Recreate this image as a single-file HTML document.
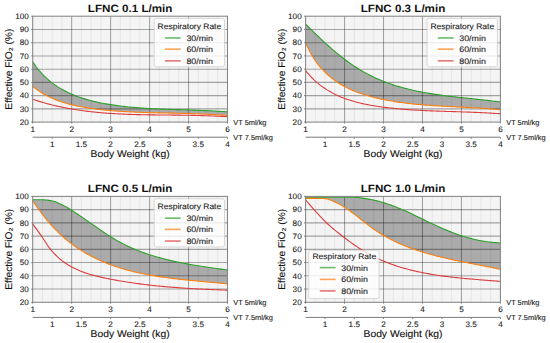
<!DOCTYPE html>
<html><head><meta charset="utf-8"><style>
html,body{margin:0;padding:0;background:#fff;}
svg{display:block;font-family:"Liberation Sans", sans-serif;text-rendering:geometricPrecision;}
</style></head><body>
<svg width="550" height="343" viewBox="0 0 550 343">
<rect width="550" height="343" fill="#fff"/>
<rect x="32.7" y="16.2" width="194.8" height="105.9" fill="#f4f4f4"/>
<polygon fill="#888" fill-opacity="0.68" points="32.7,61.77 34.32,64.18 35.95,66.48 37.57,68.63 39.19,70.57 40.82,72.38 42.44,74.12 44.06,75.77 45.69,77.35 47.31,78.85 48.93,80.28 50.56,81.63 52.18,82.91 53.8,84.12 55.43,85.27 57.05,86.35 58.67,87.39 60.3,88.37 61.92,89.31 63.54,90.21 65.17,91.08 66.79,91.9 68.41,92.68 70.04,93.43 71.66,94.15 73.28,94.83 74.91,95.49 76.53,96.12 78.15,96.73 79.78,97.3 81.4,97.85 83.02,98.38 84.65,98.89 86.27,99.37 87.89,99.84 89.52,100.28 91.14,100.71 92.76,101.12 94.39,101.51 96.01,101.89 97.63,102.25 99.26,102.6 100.88,102.93 102.5,103.25 104.13,103.55 105.75,103.85 107.37,104.13 109,104.4 110.62,104.66 112.24,104.91 113.87,105.15 115.49,105.39 117.11,105.61 118.74,105.82 120.36,106.03 121.98,106.22 123.61,106.41 125.23,106.6 126.85,106.77 128.48,106.94 130.1,107.09 131.72,107.24 133.35,107.39 134.97,107.53 136.59,107.66 138.22,107.79 139.84,107.91 141.46,108.02 143.09,108.13 144.71,108.24 146.33,108.34 147.96,108.44 149.58,108.52 151.2,108.6 152.83,108.68 154.45,108.76 156.07,108.83 157.7,108.9 159.32,108.97 160.94,109.04 162.57,109.1 164.19,109.16 165.81,109.22 167.44,109.28 169.06,109.34 170.68,109.39 172.31,109.44 173.93,109.49 175.55,109.53 177.18,109.58 178.8,109.62 180.42,109.66 182.05,109.71 183.67,109.75 185.29,109.8 186.92,109.85 188.54,109.91 190.16,109.97 191.79,110.03 193.41,110.09 195.03,110.15 196.66,110.22 198.28,110.29 199.9,110.36 201.53,110.43 203.15,110.5 204.77,110.58 206.4,110.66 208.02,110.74 209.64,110.82 211.27,110.9 212.89,110.98 214.51,111.07 216.14,111.16 217.76,111.25 219.38,111.34 221.01,111.43 222.63,111.53 224.25,111.62 225.88,111.72 227.5,111.82 227.5,115.4 225.88,115.3 224.25,115.2 222.63,115.1 221.01,115.01 219.38,114.91 217.76,114.82 216.14,114.73 214.51,114.64 212.89,114.56 211.27,114.47 209.64,114.39 208.02,114.31 206.4,114.23 204.77,114.15 203.15,114.07 201.53,114 199.9,113.93 198.28,113.86 196.66,113.8 195.03,113.74 193.41,113.68 191.79,113.62 190.16,113.57 188.54,113.52 186.92,113.47 185.29,113.42 183.67,113.38 182.05,113.34 180.42,113.3 178.8,113.27 177.18,113.23 175.55,113.2 173.93,113.17 172.31,113.14 170.68,113.11 169.06,113.08 167.44,113.05 165.81,113.02 164.19,112.98 162.57,112.95 160.94,112.92 159.32,112.89 157.7,112.85 156.07,112.82 154.45,112.78 152.83,112.74 151.2,112.69 149.58,112.65 147.96,112.6 146.33,112.55 144.71,112.5 143.09,112.44 141.46,112.38 139.84,112.32 138.22,112.26 136.59,112.19 134.97,112.12 133.35,112.05 131.72,111.98 130.1,111.9 128.48,111.82 126.85,111.73 125.23,111.63 123.61,111.53 121.98,111.43 120.36,111.31 118.74,111.2 117.11,111.08 115.49,110.96 113.87,110.83 112.24,110.7 110.62,110.56 109,110.42 107.37,110.27 105.75,110.11 104.13,109.94 102.5,109.77 100.88,109.59 99.26,109.4 97.63,109.21 96.01,109.01 94.39,108.79 92.76,108.58 91.14,108.35 89.52,108.12 87.89,107.87 86.27,107.62 84.65,107.36 83.02,107.08 81.4,106.79 79.78,106.49 78.15,106.18 76.53,105.84 74.91,105.5 73.28,105.13 71.66,104.75 70.04,104.35 68.41,103.92 66.79,103.48 65.17,103.01 63.54,102.52 61.92,102 60.3,101.46 58.67,100.88 57.05,100.27 55.43,99.63 53.8,98.97 52.18,98.28 50.56,97.55 48.93,96.76 47.31,95.94 45.69,95.08 44.06,94.18 42.44,93.21 40.82,92.18 39.19,91.11 37.57,89.98 35.95,88.8 34.32,87.56 32.7,86.27"/>
<line x1="42.44" y1="16.2" x2="42.44" y2="122.1" stroke="#000" stroke-opacity="0.1" stroke-width="0.6"/>
<line x1="52.18" y1="16.2" x2="52.18" y2="122.1" stroke="#000" stroke-opacity="0.1" stroke-width="0.6"/>
<line x1="61.92" y1="16.2" x2="61.92" y2="122.1" stroke="#000" stroke-opacity="0.1" stroke-width="0.6"/>
<line x1="81.4" y1="16.2" x2="81.4" y2="122.1" stroke="#000" stroke-opacity="0.1" stroke-width="0.6"/>
<line x1="91.14" y1="16.2" x2="91.14" y2="122.1" stroke="#000" stroke-opacity="0.1" stroke-width="0.6"/>
<line x1="100.88" y1="16.2" x2="100.88" y2="122.1" stroke="#000" stroke-opacity="0.1" stroke-width="0.6"/>
<line x1="120.36" y1="16.2" x2="120.36" y2="122.1" stroke="#000" stroke-opacity="0.1" stroke-width="0.6"/>
<line x1="130.1" y1="16.2" x2="130.1" y2="122.1" stroke="#000" stroke-opacity="0.1" stroke-width="0.6"/>
<line x1="139.84" y1="16.2" x2="139.84" y2="122.1" stroke="#000" stroke-opacity="0.1" stroke-width="0.6"/>
<line x1="159.32" y1="16.2" x2="159.32" y2="122.1" stroke="#000" stroke-opacity="0.1" stroke-width="0.6"/>
<line x1="169.06" y1="16.2" x2="169.06" y2="122.1" stroke="#000" stroke-opacity="0.1" stroke-width="0.6"/>
<line x1="178.8" y1="16.2" x2="178.8" y2="122.1" stroke="#000" stroke-opacity="0.1" stroke-width="0.6"/>
<line x1="198.28" y1="16.2" x2="198.28" y2="122.1" stroke="#000" stroke-opacity="0.1" stroke-width="0.6"/>
<line x1="208.02" y1="16.2" x2="208.02" y2="122.1" stroke="#000" stroke-opacity="0.1" stroke-width="0.6"/>
<line x1="217.76" y1="16.2" x2="217.76" y2="122.1" stroke="#000" stroke-opacity="0.1" stroke-width="0.6"/>
<line x1="71.66" y1="16.2" x2="71.66" y2="122.1" stroke="#000" stroke-opacity="0.34" stroke-width="1.05"/>
<line x1="110.62" y1="16.2" x2="110.62" y2="122.1" stroke="#000" stroke-opacity="0.34" stroke-width="1.05"/>
<line x1="149.58" y1="16.2" x2="149.58" y2="122.1" stroke="#000" stroke-opacity="0.34" stroke-width="1.05"/>
<line x1="188.54" y1="16.2" x2="188.54" y2="122.1" stroke="#000" stroke-opacity="0.34" stroke-width="1.05"/>
<line x1="32.7" y1="108.86" x2="227.5" y2="108.86" stroke="#000" stroke-opacity="0.34" stroke-width="1.05"/>
<line x1="32.7" y1="95.63" x2="227.5" y2="95.63" stroke="#000" stroke-opacity="0.34" stroke-width="1.05"/>
<line x1="32.7" y1="82.39" x2="227.5" y2="82.39" stroke="#000" stroke-opacity="0.34" stroke-width="1.05"/>
<line x1="32.7" y1="69.15" x2="227.5" y2="69.15" stroke="#000" stroke-opacity="0.34" stroke-width="1.05"/>
<line x1="32.7" y1="55.91" x2="227.5" y2="55.91" stroke="#000" stroke-opacity="0.34" stroke-width="1.05"/>
<line x1="32.7" y1="42.67" x2="227.5" y2="42.67" stroke="#000" stroke-opacity="0.34" stroke-width="1.05"/>
<line x1="32.7" y1="29.44" x2="227.5" y2="29.44" stroke="#000" stroke-opacity="0.34" stroke-width="1.05"/>
<polyline fill="none" stroke="#2ca02c" stroke-width="1.1" stroke-linejoin="round" points="32.7,61.77 34.32,64.18 35.95,66.48 37.57,68.63 39.19,70.57 40.82,72.38 42.44,74.12 44.06,75.77 45.69,77.35 47.31,78.85 48.93,80.28 50.56,81.63 52.18,82.91 53.8,84.12 55.43,85.27 57.05,86.35 58.67,87.39 60.3,88.37 61.92,89.31 63.54,90.21 65.17,91.08 66.79,91.9 68.41,92.68 70.04,93.43 71.66,94.15 73.28,94.83 74.91,95.49 76.53,96.12 78.15,96.73 79.78,97.3 81.4,97.85 83.02,98.38 84.65,98.89 86.27,99.37 87.89,99.84 89.52,100.28 91.14,100.71 92.76,101.12 94.39,101.51 96.01,101.89 97.63,102.25 99.26,102.6 100.88,102.93 102.5,103.25 104.13,103.55 105.75,103.85 107.37,104.13 109,104.4 110.62,104.66 112.24,104.91 113.87,105.15 115.49,105.39 117.11,105.61 118.74,105.82 120.36,106.03 121.98,106.22 123.61,106.41 125.23,106.6 126.85,106.77 128.48,106.94 130.1,107.09 131.72,107.24 133.35,107.39 134.97,107.53 136.59,107.66 138.22,107.79 139.84,107.91 141.46,108.02 143.09,108.13 144.71,108.24 146.33,108.34 147.96,108.44 149.58,108.52 151.2,108.6 152.83,108.68 154.45,108.76 156.07,108.83 157.7,108.9 159.32,108.97 160.94,109.04 162.57,109.1 164.19,109.16 165.81,109.22 167.44,109.28 169.06,109.34 170.68,109.39 172.31,109.44 173.93,109.49 175.55,109.53 177.18,109.58 178.8,109.62 180.42,109.66 182.05,109.71 183.67,109.75 185.29,109.8 186.92,109.85 188.54,109.91 190.16,109.97 191.79,110.03 193.41,110.09 195.03,110.15 196.66,110.22 198.28,110.29 199.9,110.36 201.53,110.43 203.15,110.5 204.77,110.58 206.4,110.66 208.02,110.74 209.64,110.82 211.27,110.9 212.89,110.98 214.51,111.07 216.14,111.16 217.76,111.25 219.38,111.34 221.01,111.43 222.63,111.53 224.25,111.62 225.88,111.72 227.5,111.82"/>
<polyline fill="none" stroke="#ff7f0e" stroke-width="1.1" stroke-linejoin="round" points="32.7,86.27 34.32,87.56 35.95,88.8 37.57,89.98 39.19,91.11 40.82,92.18 42.44,93.21 44.06,94.18 45.69,95.08 47.31,95.94 48.93,96.76 50.56,97.55 52.18,98.28 53.8,98.97 55.43,99.63 57.05,100.27 58.67,100.88 60.3,101.46 61.92,102 63.54,102.52 65.17,103.01 66.79,103.48 68.41,103.92 70.04,104.35 71.66,104.75 73.28,105.13 74.91,105.5 76.53,105.84 78.15,106.18 79.78,106.49 81.4,106.79 83.02,107.08 84.65,107.36 86.27,107.62 87.89,107.87 89.52,108.12 91.14,108.35 92.76,108.58 94.39,108.79 96.01,109.01 97.63,109.21 99.26,109.4 100.88,109.59 102.5,109.77 104.13,109.94 105.75,110.11 107.37,110.27 109,110.42 110.62,110.56 112.24,110.7 113.87,110.83 115.49,110.96 117.11,111.08 118.74,111.2 120.36,111.31 121.98,111.43 123.61,111.53 125.23,111.63 126.85,111.73 128.48,111.82 130.1,111.9 131.72,111.98 133.35,112.05 134.97,112.12 136.59,112.19 138.22,112.26 139.84,112.32 141.46,112.38 143.09,112.44 144.71,112.5 146.33,112.55 147.96,112.6 149.58,112.65 151.2,112.69 152.83,112.74 154.45,112.78 156.07,112.82 157.7,112.85 159.32,112.89 160.94,112.92 162.57,112.95 164.19,112.98 165.81,113.02 167.44,113.05 169.06,113.08 170.68,113.11 172.31,113.14 173.93,113.17 175.55,113.2 177.18,113.23 178.8,113.27 180.42,113.3 182.05,113.34 183.67,113.38 185.29,113.42 186.92,113.47 188.54,113.52 190.16,113.57 191.79,113.62 193.41,113.68 195.03,113.74 196.66,113.8 198.28,113.86 199.9,113.93 201.53,114 203.15,114.07 204.77,114.15 206.4,114.23 208.02,114.31 209.64,114.39 211.27,114.47 212.89,114.56 214.51,114.64 216.14,114.73 217.76,114.82 219.38,114.91 221.01,115.01 222.63,115.1 224.25,115.2 225.88,115.3 227.5,115.4"/>
<polyline fill="none" stroke="#dc3c3c" stroke-width="1.1" stroke-linejoin="round" points="32.7,99.28 34.32,99.83 35.95,100.35 37.57,100.87 39.19,101.37 40.82,101.86 42.44,102.34 44.06,102.8 45.69,103.26 47.31,103.7 48.93,104.13 50.56,104.54 52.18,104.95 53.8,105.34 55.43,105.73 57.05,106.1 58.67,106.46 60.3,106.81 61.92,107.15 63.54,107.48 65.17,107.8 66.79,108.11 68.41,108.42 70.04,108.71 71.66,108.99 73.28,109.26 74.91,109.53 76.53,109.78 78.15,110.03 79.78,110.27 81.4,110.5 83.02,110.72 84.65,110.94 86.27,111.14 87.89,111.34 89.52,111.54 91.14,111.72 92.76,111.9 94.39,112.07 96.01,112.23 97.63,112.39 99.26,112.54 100.88,112.69 102.5,112.83 104.13,112.96 105.75,113.09 107.37,113.21 109,113.33 110.62,113.43 112.24,113.53 113.87,113.63 115.49,113.72 117.11,113.81 118.74,113.9 120.36,113.98 121.98,114.06 123.61,114.14 125.23,114.21 126.85,114.28 128.48,114.34 130.1,114.39 131.72,114.44 133.35,114.49 134.97,114.54 136.59,114.58 138.22,114.63 139.84,114.67 141.46,114.7 143.09,114.74 144.71,114.77 146.33,114.8 147.96,114.83 149.58,114.86 151.2,114.88 152.83,114.9 154.45,114.92 156.07,114.94 157.7,114.96 159.32,114.98 160.94,114.99 162.57,115.01 164.19,115.02 165.81,115.03 167.44,115.05 169.06,115.06 170.68,115.07 172.31,115.09 173.93,115.1 175.55,115.12 177.18,115.13 178.8,115.15 180.42,115.16 182.05,115.18 183.67,115.2 185.29,115.22 186.92,115.25 188.54,115.27 190.16,115.3 191.79,115.33 193.41,115.37 195.03,115.41 196.66,115.45 198.28,115.49 199.9,115.54 201.53,115.59 203.15,115.64 204.77,115.69 206.4,115.75 208.02,115.81 209.64,115.87 211.27,115.93 212.89,115.99 214.51,116.06 216.14,116.13 217.76,116.2 219.38,116.27 221.01,116.34 222.63,116.41 224.25,116.49 225.88,116.56 227.5,116.64"/>
<rect x="32.7" y="16.2" width="194.8" height="105.9" fill="none" stroke="#858585" stroke-width="1.05"/>
<line x1="31.1" y1="122.1" x2="32.7" y2="122.1" stroke="#666" stroke-width="0.8"/>
<text transform="translate(28.8,124.8) scale(1.03,1)" font-size="7.95" text-anchor="end" fill="#222" stroke="#222" stroke-width="0.1">20</text>
<line x1="31.1" y1="108.86" x2="32.7" y2="108.86" stroke="#666" stroke-width="0.8"/>
<text transform="translate(28.8,111.56) scale(1.03,1)" font-size="7.95" text-anchor="end" fill="#222" stroke="#222" stroke-width="0.1">30</text>
<line x1="31.1" y1="95.63" x2="32.7" y2="95.63" stroke="#666" stroke-width="0.8"/>
<text transform="translate(28.8,98.33) scale(1.03,1)" font-size="7.95" text-anchor="end" fill="#222" stroke="#222" stroke-width="0.1">40</text>
<line x1="31.1" y1="82.39" x2="32.7" y2="82.39" stroke="#666" stroke-width="0.8"/>
<text transform="translate(28.8,85.09) scale(1.03,1)" font-size="7.95" text-anchor="end" fill="#222" stroke="#222" stroke-width="0.1">50</text>
<line x1="31.1" y1="69.15" x2="32.7" y2="69.15" stroke="#666" stroke-width="0.8"/>
<text transform="translate(28.8,71.85) scale(1.03,1)" font-size="7.95" text-anchor="end" fill="#222" stroke="#222" stroke-width="0.1">60</text>
<line x1="31.1" y1="55.91" x2="32.7" y2="55.91" stroke="#666" stroke-width="0.8"/>
<text transform="translate(28.8,58.61) scale(1.03,1)" font-size="7.95" text-anchor="end" fill="#222" stroke="#222" stroke-width="0.1">70</text>
<line x1="31.1" y1="42.67" x2="32.7" y2="42.67" stroke="#666" stroke-width="0.8"/>
<text transform="translate(28.8,45.38) scale(1.03,1)" font-size="7.95" text-anchor="end" fill="#222" stroke="#222" stroke-width="0.1">80</text>
<line x1="31.1" y1="29.44" x2="32.7" y2="29.44" stroke="#666" stroke-width="0.8"/>
<text transform="translate(28.8,32.14) scale(1.03,1)" font-size="7.95" text-anchor="end" fill="#222" stroke="#222" stroke-width="0.1">90</text>
<line x1="31.1" y1="16.2" x2="32.7" y2="16.2" stroke="#666" stroke-width="0.8"/>
<text transform="translate(28.8,18.9) scale(1.03,1)" font-size="7.95" text-anchor="end" fill="#222" stroke="#222" stroke-width="0.1">100</text>
<line x1="32.7" y1="122.1" x2="32.7" y2="123.5" stroke="#666" stroke-width="0.8"/>
<text transform="translate(32.7,131.7) scale(1.03,1)" font-size="7.95" text-anchor="middle" fill="#222" stroke="#222" stroke-width="0.1">1</text>
<line x1="71.66" y1="122.1" x2="71.66" y2="123.5" stroke="#666" stroke-width="0.8"/>
<text transform="translate(71.66,131.7) scale(1.03,1)" font-size="7.95" text-anchor="middle" fill="#222" stroke="#222" stroke-width="0.1">2</text>
<line x1="110.62" y1="122.1" x2="110.62" y2="123.5" stroke="#666" stroke-width="0.8"/>
<text transform="translate(110.62,131.7) scale(1.03,1)" font-size="7.95" text-anchor="middle" fill="#222" stroke="#222" stroke-width="0.1">3</text>
<line x1="149.58" y1="122.1" x2="149.58" y2="123.5" stroke="#666" stroke-width="0.8"/>
<text transform="translate(149.58,131.7) scale(1.03,1)" font-size="7.95" text-anchor="middle" fill="#222" stroke="#222" stroke-width="0.1">4</text>
<line x1="188.54" y1="122.1" x2="188.54" y2="123.5" stroke="#666" stroke-width="0.8"/>
<text transform="translate(188.54,131.7) scale(1.03,1)" font-size="7.95" text-anchor="middle" fill="#222" stroke="#222" stroke-width="0.1">5</text>
<line x1="227.5" y1="122.1" x2="227.5" y2="123.5" stroke="#666" stroke-width="0.8"/>
<text transform="translate(227.5,131.7) scale(1.03,1)" font-size="7.95" text-anchor="middle" fill="#222" stroke="#222" stroke-width="0.1">6</text>
<line x1="32.7" y1="137.2" x2="227.5" y2="137.2" stroke="#7a7a7a" stroke-width="1"/>
<line x1="52.18" y1="137.2" x2="52.18" y2="138.8" stroke="#666" stroke-width="0.8"/>
<text transform="translate(52.18,146.5) scale(1.03,1)" font-size="7.95" text-anchor="middle" fill="#222" stroke="#222" stroke-width="0.1">1</text>
<line x1="81.4" y1="137.2" x2="81.4" y2="138.8" stroke="#666" stroke-width="0.8"/>
<text transform="translate(81.4,146.5) scale(1.03,1)" font-size="7.95" text-anchor="middle" fill="#222" stroke="#222" stroke-width="0.1">1.5</text>
<line x1="110.62" y1="137.2" x2="110.62" y2="138.8" stroke="#666" stroke-width="0.8"/>
<text transform="translate(110.62,146.5) scale(1.03,1)" font-size="7.95" text-anchor="middle" fill="#222" stroke="#222" stroke-width="0.1">2</text>
<line x1="139.84" y1="137.2" x2="139.84" y2="138.8" stroke="#666" stroke-width="0.8"/>
<text transform="translate(139.84,146.5) scale(1.03,1)" font-size="7.95" text-anchor="middle" fill="#222" stroke="#222" stroke-width="0.1">2.5</text>
<line x1="169.06" y1="137.2" x2="169.06" y2="138.8" stroke="#666" stroke-width="0.8"/>
<text transform="translate(169.06,146.5) scale(1.03,1)" font-size="7.95" text-anchor="middle" fill="#222" stroke="#222" stroke-width="0.1">3</text>
<line x1="198.28" y1="137.2" x2="198.28" y2="138.8" stroke="#666" stroke-width="0.8"/>
<text transform="translate(198.28,146.5) scale(1.03,1)" font-size="7.95" text-anchor="middle" fill="#222" stroke="#222" stroke-width="0.1">3.5</text>
<line x1="227.5" y1="137.2" x2="227.5" y2="138.8" stroke="#666" stroke-width="0.8"/>
<text transform="translate(227.5,146.5) scale(1.03,1)" font-size="7.95" text-anchor="middle" fill="#222" stroke="#222" stroke-width="0.1">4</text>
<text x="233.3" y="125" font-size="7.3" fill="#222" stroke="#222" stroke-width="0.12" textLength="33.2" lengthAdjust="spacingAndGlyphs">VT 5ml/kg</text>
<text x="233.3" y="139.8" font-size="7.3" fill="#222" stroke="#222" stroke-width="0.12" textLength="39.5" lengthAdjust="spacingAndGlyphs">VT 7.5ml/kg</text>
<text x="130.1" y="156.9" font-size="9.8" text-anchor="middle" fill="#111" stroke="#111" stroke-width="0.12" textLength="79" lengthAdjust="spacingAndGlyphs">Body Weight (kg)</text>
<text transform="translate(11.8,69.15) rotate(-90)" x="0" y="0" font-size="9.8" text-anchor="middle" fill="#111" stroke="#111" stroke-width="0.12" textLength="81" lengthAdjust="spacingAndGlyphs">Effective FiO₂ (%)</text>
<text x="130.1" y="12.1" font-size="10.6" font-weight="bold" text-anchor="middle" fill="#111" textLength="84.5" lengthAdjust="spacingAndGlyphs">LFNC 0.1 L/min</text>
<rect x="154.2" y="18.55" width="70.3" height="48.2" rx="2" ry="2" fill="#ffffff" fill-opacity="0.8" stroke="#cfcfcf" stroke-width="0.8"/>
<text x="157.6" y="28.95" font-size="8.0" fill="#222" stroke="#222" stroke-width="0.12" textLength="63.6" lengthAdjust="spacingAndGlyphs">Respiratory Rate</text>
<line x1="164.9" y1="37.95" x2="180.7" y2="37.95" stroke="#2ca02c" stroke-width="1.6" stroke-opacity="0.7"/>
<text x="186.4" y="40.85" font-size="8.0" fill="#222" stroke="#222" stroke-width="0.12" textLength="26.5" lengthAdjust="spacingAndGlyphs">30/min</text>
<line x1="164.9" y1="49.15" x2="180.7" y2="49.15" stroke="#ff7f0e" stroke-width="1.6" stroke-opacity="0.7"/>
<text x="186.4" y="52.05" font-size="8.0" fill="#222" stroke="#222" stroke-width="0.12" textLength="26.5" lengthAdjust="spacingAndGlyphs">60/min</text>
<line x1="164.9" y1="60.85" x2="180.7" y2="60.85" stroke="#dc3c3c" stroke-width="1.6" stroke-opacity="0.7"/>
<text x="186.4" y="63.75" font-size="8.0" fill="#222" stroke="#222" stroke-width="0.12" textLength="26.5" lengthAdjust="spacingAndGlyphs">80/min</text>
<rect x="305.6" y="16.2" width="194.8" height="105.9" fill="#f4f4f4"/>
<polygon fill="#888" fill-opacity="0.68" points="305.6,24.06 307.22,25.68 308.85,27.28 310.47,28.87 312.09,30.45 313.72,32.04 315.34,33.62 316.96,35.2 318.59,36.76 320.21,38.32 321.83,39.85 323.46,41.36 325.08,42.84 326.7,44.3 328.33,45.76 329.95,47.21 331.57,48.65 333.2,50.07 334.82,51.46 336.44,52.84 338.07,54.18 339.69,55.5 341.31,56.78 342.94,58.04 344.56,59.27 346.18,60.49 347.81,61.69 349.43,62.86 351.05,64.01 352.68,65.13 354.3,66.22 355.92,67.28 357.55,68.3 359.17,69.29 360.79,70.26 362.42,71.2 364.04,72.12 365.66,73.01 367.29,73.88 368.91,74.73 370.53,75.56 372.16,76.36 373.78,77.15 375.4,77.91 377.03,78.64 378.65,79.35 380.27,80.04 381.9,80.71 383.52,81.35 385.14,81.99 386.77,82.6 388.39,83.2 390.01,83.77 391.64,84.33 393.26,84.88 394.88,85.4 396.51,85.91 398.13,86.4 399.75,86.88 401.38,87.34 403,87.79 404.62,88.23 406.25,88.65 407.87,89.06 409.49,89.45 411.12,89.84 412.74,90.21 414.36,90.57 415.99,90.92 417.61,91.26 419.23,91.59 420.86,91.91 422.48,92.21 424.1,92.5 425.73,92.79 427.35,93.07 428.97,93.34 430.6,93.6 432.22,93.87 433.84,94.12 435.47,94.37 437.09,94.61 438.71,94.85 440.34,95.07 441.96,95.3 443.58,95.52 445.21,95.73 446.83,95.93 448.45,96.13 450.08,96.33 451.7,96.52 453.32,96.71 454.95,96.89 456.57,97.08 458.19,97.26 459.82,97.44 461.44,97.62 463.06,97.8 464.69,97.98 466.31,98.15 467.93,98.32 469.56,98.49 471.18,98.65 472.8,98.82 474.43,98.99 476.05,99.16 477.67,99.33 479.3,99.5 480.92,99.68 482.54,99.86 484.17,100.05 485.79,100.23 487.41,100.42 489.04,100.61 490.66,100.8 492.28,100.99 493.91,101.18 495.53,101.38 497.15,101.57 498.78,101.77 500.4,101.97 500.4,109.73 498.78,109.58 497.15,109.43 495.53,109.29 493.91,109.15 492.28,109.01 490.66,108.87 489.04,108.74 487.41,108.61 485.79,108.49 484.17,108.38 482.54,108.26 480.92,108.15 479.3,108.05 477.67,107.95 476.05,107.86 474.43,107.76 472.8,107.68 471.18,107.59 469.56,107.5 467.93,107.42 466.31,107.34 464.69,107.26 463.06,107.17 461.44,107.09 459.82,107.01 458.19,106.92 456.57,106.85 454.95,106.77 453.32,106.69 451.7,106.61 450.08,106.54 448.45,106.46 446.83,106.38 445.21,106.3 443.58,106.21 441.96,106.12 440.34,106.03 438.71,105.93 437.09,105.84 435.47,105.74 433.84,105.64 432.22,105.53 430.6,105.42 428.97,105.31 427.35,105.2 425.73,105.08 424.1,104.96 422.48,104.83 420.86,104.69 419.23,104.55 417.61,104.4 415.99,104.25 414.36,104.09 412.74,103.92 411.12,103.75 409.49,103.57 407.87,103.39 406.25,103.19 404.62,103 403,102.79 401.38,102.57 399.75,102.35 398.13,102.11 396.51,101.86 394.88,101.6 393.26,101.33 391.64,101.06 390.01,100.77 388.39,100.48 386.77,100.17 385.14,99.87 383.52,99.55 381.9,99.22 380.27,98.87 378.65,98.51 377.03,98.12 375.4,97.73 373.78,97.32 372.16,96.91 370.53,96.47 368.91,96.02 367.29,95.56 365.66,95.07 364.04,94.57 362.42,94.05 360.79,93.51 359.17,92.94 357.55,92.35 355.92,91.73 354.3,91.09 352.68,90.41 351.05,89.7 349.43,88.96 347.81,88.18 346.18,87.38 344.56,86.55 342.94,85.66 341.31,84.72 339.69,83.74 338.07,82.72 336.44,81.62 334.82,80.45 333.2,79.23 331.57,77.95 329.95,76.63 328.33,75.23 326.7,73.77 325.08,72.23 323.46,70.6 321.83,68.89 320.21,67.04 318.59,65.07 316.96,62.96 315.34,60.7 313.72,58.29 312.09,55.71 310.47,52.81 308.85,49.62 307.22,46.19 305.6,42.57"/>
<line x1="315.34" y1="16.2" x2="315.34" y2="122.1" stroke="#000" stroke-opacity="0.1" stroke-width="0.6"/>
<line x1="325.08" y1="16.2" x2="325.08" y2="122.1" stroke="#000" stroke-opacity="0.1" stroke-width="0.6"/>
<line x1="334.82" y1="16.2" x2="334.82" y2="122.1" stroke="#000" stroke-opacity="0.1" stroke-width="0.6"/>
<line x1="354.3" y1="16.2" x2="354.3" y2="122.1" stroke="#000" stroke-opacity="0.1" stroke-width="0.6"/>
<line x1="364.04" y1="16.2" x2="364.04" y2="122.1" stroke="#000" stroke-opacity="0.1" stroke-width="0.6"/>
<line x1="373.78" y1="16.2" x2="373.78" y2="122.1" stroke="#000" stroke-opacity="0.1" stroke-width="0.6"/>
<line x1="393.26" y1="16.2" x2="393.26" y2="122.1" stroke="#000" stroke-opacity="0.1" stroke-width="0.6"/>
<line x1="403" y1="16.2" x2="403" y2="122.1" stroke="#000" stroke-opacity="0.1" stroke-width="0.6"/>
<line x1="412.74" y1="16.2" x2="412.74" y2="122.1" stroke="#000" stroke-opacity="0.1" stroke-width="0.6"/>
<line x1="432.22" y1="16.2" x2="432.22" y2="122.1" stroke="#000" stroke-opacity="0.1" stroke-width="0.6"/>
<line x1="441.96" y1="16.2" x2="441.96" y2="122.1" stroke="#000" stroke-opacity="0.1" stroke-width="0.6"/>
<line x1="451.7" y1="16.2" x2="451.7" y2="122.1" stroke="#000" stroke-opacity="0.1" stroke-width="0.6"/>
<line x1="471.18" y1="16.2" x2="471.18" y2="122.1" stroke="#000" stroke-opacity="0.1" stroke-width="0.6"/>
<line x1="480.92" y1="16.2" x2="480.92" y2="122.1" stroke="#000" stroke-opacity="0.1" stroke-width="0.6"/>
<line x1="490.66" y1="16.2" x2="490.66" y2="122.1" stroke="#000" stroke-opacity="0.1" stroke-width="0.6"/>
<line x1="344.56" y1="16.2" x2="344.56" y2="122.1" stroke="#000" stroke-opacity="0.34" stroke-width="1.05"/>
<line x1="383.52" y1="16.2" x2="383.52" y2="122.1" stroke="#000" stroke-opacity="0.34" stroke-width="1.05"/>
<line x1="422.48" y1="16.2" x2="422.48" y2="122.1" stroke="#000" stroke-opacity="0.34" stroke-width="1.05"/>
<line x1="461.44" y1="16.2" x2="461.44" y2="122.1" stroke="#000" stroke-opacity="0.34" stroke-width="1.05"/>
<line x1="305.6" y1="108.86" x2="500.4" y2="108.86" stroke="#000" stroke-opacity="0.34" stroke-width="1.05"/>
<line x1="305.6" y1="95.63" x2="500.4" y2="95.63" stroke="#000" stroke-opacity="0.34" stroke-width="1.05"/>
<line x1="305.6" y1="82.39" x2="500.4" y2="82.39" stroke="#000" stroke-opacity="0.34" stroke-width="1.05"/>
<line x1="305.6" y1="69.15" x2="500.4" y2="69.15" stroke="#000" stroke-opacity="0.34" stroke-width="1.05"/>
<line x1="305.6" y1="55.91" x2="500.4" y2="55.91" stroke="#000" stroke-opacity="0.34" stroke-width="1.05"/>
<line x1="305.6" y1="42.67" x2="500.4" y2="42.67" stroke="#000" stroke-opacity="0.34" stroke-width="1.05"/>
<line x1="305.6" y1="29.44" x2="500.4" y2="29.44" stroke="#000" stroke-opacity="0.34" stroke-width="1.05"/>
<polyline fill="none" stroke="#2ca02c" stroke-width="1.1" stroke-linejoin="round" points="305.6,24.06 307.22,25.68 308.85,27.28 310.47,28.87 312.09,30.45 313.72,32.04 315.34,33.62 316.96,35.2 318.59,36.76 320.21,38.32 321.83,39.85 323.46,41.36 325.08,42.84 326.7,44.3 328.33,45.76 329.95,47.21 331.57,48.65 333.2,50.07 334.82,51.46 336.44,52.84 338.07,54.18 339.69,55.5 341.31,56.78 342.94,58.04 344.56,59.27 346.18,60.49 347.81,61.69 349.43,62.86 351.05,64.01 352.68,65.13 354.3,66.22 355.92,67.28 357.55,68.3 359.17,69.29 360.79,70.26 362.42,71.2 364.04,72.12 365.66,73.01 367.29,73.88 368.91,74.73 370.53,75.56 372.16,76.36 373.78,77.15 375.4,77.91 377.03,78.64 378.65,79.35 380.27,80.04 381.9,80.71 383.52,81.35 385.14,81.99 386.77,82.6 388.39,83.2 390.01,83.77 391.64,84.33 393.26,84.88 394.88,85.4 396.51,85.91 398.13,86.4 399.75,86.88 401.38,87.34 403,87.79 404.62,88.23 406.25,88.65 407.87,89.06 409.49,89.45 411.12,89.84 412.74,90.21 414.36,90.57 415.99,90.92 417.61,91.26 419.23,91.59 420.86,91.91 422.48,92.21 424.1,92.5 425.73,92.79 427.35,93.07 428.97,93.34 430.6,93.6 432.22,93.87 433.84,94.12 435.47,94.37 437.09,94.61 438.71,94.85 440.34,95.07 441.96,95.3 443.58,95.52 445.21,95.73 446.83,95.93 448.45,96.13 450.08,96.33 451.7,96.52 453.32,96.71 454.95,96.89 456.57,97.08 458.19,97.26 459.82,97.44 461.44,97.62 463.06,97.8 464.69,97.98 466.31,98.15 467.93,98.32 469.56,98.49 471.18,98.65 472.8,98.82 474.43,98.99 476.05,99.16 477.67,99.33 479.3,99.5 480.92,99.68 482.54,99.86 484.17,100.05 485.79,100.23 487.41,100.42 489.04,100.61 490.66,100.8 492.28,100.99 493.91,101.18 495.53,101.38 497.15,101.57 498.78,101.77 500.4,101.97"/>
<polyline fill="none" stroke="#ff7f0e" stroke-width="1.1" stroke-linejoin="round" points="305.6,42.57 307.22,46.19 308.85,49.62 310.47,52.81 312.09,55.71 313.72,58.29 315.34,60.7 316.96,62.96 318.59,65.07 320.21,67.04 321.83,68.89 323.46,70.6 325.08,72.23 326.7,73.77 328.33,75.23 329.95,76.63 331.57,77.95 333.2,79.23 334.82,80.45 336.44,81.62 338.07,82.72 339.69,83.74 341.31,84.72 342.94,85.66 344.56,86.55 346.18,87.38 347.81,88.18 349.43,88.96 351.05,89.7 352.68,90.41 354.3,91.09 355.92,91.73 357.55,92.35 359.17,92.94 360.79,93.51 362.42,94.05 364.04,94.57 365.66,95.07 367.29,95.56 368.91,96.02 370.53,96.47 372.16,96.91 373.78,97.32 375.4,97.73 377.03,98.12 378.65,98.51 380.27,98.87 381.9,99.22 383.52,99.55 385.14,99.87 386.77,100.17 388.39,100.48 390.01,100.77 391.64,101.06 393.26,101.33 394.88,101.6 396.51,101.86 398.13,102.11 399.75,102.35 401.38,102.57 403,102.79 404.62,103 406.25,103.19 407.87,103.39 409.49,103.57 411.12,103.75 412.74,103.92 414.36,104.09 415.99,104.25 417.61,104.4 419.23,104.55 420.86,104.69 422.48,104.83 424.1,104.96 425.73,105.08 427.35,105.2 428.97,105.31 430.6,105.42 432.22,105.53 433.84,105.64 435.47,105.74 437.09,105.84 438.71,105.93 440.34,106.03 441.96,106.12 443.58,106.21 445.21,106.3 446.83,106.38 448.45,106.46 450.08,106.54 451.7,106.61 453.32,106.69 454.95,106.77 456.57,106.85 458.19,106.92 459.82,107.01 461.44,107.09 463.06,107.17 464.69,107.26 466.31,107.34 467.93,107.42 469.56,107.5 471.18,107.59 472.8,107.68 474.43,107.76 476.05,107.86 477.67,107.95 479.3,108.05 480.92,108.15 482.54,108.26 484.17,108.38 485.79,108.49 487.41,108.61 489.04,108.74 490.66,108.87 492.28,109.01 493.91,109.15 495.53,109.29 497.15,109.43 498.78,109.58 500.4,109.73"/>
<polyline fill="none" stroke="#dc3c3c" stroke-width="1.1" stroke-linejoin="round" points="305.6,70.67 307.22,72.6 308.85,74.46 310.47,76.27 312.09,78 313.72,79.64 315.34,81.17 316.96,82.6 318.59,83.9 320.21,85.15 321.83,86.34 323.46,87.48 325.08,88.57 326.7,89.62 328.33,90.62 329.95,91.58 331.57,92.5 333.2,93.37 334.82,94.22 336.44,95.02 338.07,95.77 339.69,96.48 341.31,97.15 342.94,97.79 344.56,98.4 346.18,98.98 347.81,99.54 349.43,100.08 351.05,100.6 352.68,101.09 354.3,101.55 355.92,102 357.55,102.42 359.17,102.83 360.79,103.22 362.42,103.59 364.04,103.95 365.66,104.29 367.29,104.61 368.91,104.93 370.53,105.22 372.16,105.51 373.78,105.78 375.4,106.05 377.03,106.3 378.65,106.54 380.27,106.78 381.9,107 383.52,107.21 385.14,107.41 386.77,107.6 388.39,107.79 390.01,107.98 391.64,108.16 393.26,108.33 394.88,108.5 396.51,108.66 398.13,108.82 399.75,108.97 401.38,109.11 403,109.24 404.62,109.37 406.25,109.49 407.87,109.61 409.49,109.72 411.12,109.83 412.74,109.94 414.36,110.04 415.99,110.14 417.61,110.23 419.23,110.32 420.86,110.41 422.48,110.49 424.1,110.57 425.73,110.64 427.35,110.72 428.97,110.78 430.6,110.85 432.22,110.91 433.84,110.98 435.47,111.04 437.09,111.1 438.71,111.15 440.34,111.21 441.96,111.27 443.58,111.32 445.21,111.38 446.83,111.43 448.45,111.48 450.08,111.53 451.7,111.57 453.32,111.62 454.95,111.67 456.57,111.72 458.19,111.77 459.82,111.82 461.44,111.87 463.06,111.93 464.69,111.98 466.31,112.04 467.93,112.1 469.56,112.15 471.18,112.21 472.8,112.27 474.43,112.33 476.05,112.4 477.67,112.47 479.3,112.54 480.92,112.61 482.54,112.69 484.17,112.77 485.79,112.85 487.41,112.94 489.04,113.04 490.66,113.14 492.28,113.24 493.91,113.34 495.53,113.45 497.15,113.56 498.78,113.67 500.4,113.78"/>
<rect x="305.6" y="16.2" width="194.8" height="105.9" fill="none" stroke="#858585" stroke-width="1.05"/>
<line x1="304" y1="122.1" x2="305.6" y2="122.1" stroke="#666" stroke-width="0.8"/>
<text transform="translate(301.7,124.8) scale(1.03,1)" font-size="7.95" text-anchor="end" fill="#222" stroke="#222" stroke-width="0.1">20</text>
<line x1="304" y1="108.86" x2="305.6" y2="108.86" stroke="#666" stroke-width="0.8"/>
<text transform="translate(301.7,111.56) scale(1.03,1)" font-size="7.95" text-anchor="end" fill="#222" stroke="#222" stroke-width="0.1">30</text>
<line x1="304" y1="95.63" x2="305.6" y2="95.63" stroke="#666" stroke-width="0.8"/>
<text transform="translate(301.7,98.33) scale(1.03,1)" font-size="7.95" text-anchor="end" fill="#222" stroke="#222" stroke-width="0.1">40</text>
<line x1="304" y1="82.39" x2="305.6" y2="82.39" stroke="#666" stroke-width="0.8"/>
<text transform="translate(301.7,85.09) scale(1.03,1)" font-size="7.95" text-anchor="end" fill="#222" stroke="#222" stroke-width="0.1">50</text>
<line x1="304" y1="69.15" x2="305.6" y2="69.15" stroke="#666" stroke-width="0.8"/>
<text transform="translate(301.7,71.85) scale(1.03,1)" font-size="7.95" text-anchor="end" fill="#222" stroke="#222" stroke-width="0.1">60</text>
<line x1="304" y1="55.91" x2="305.6" y2="55.91" stroke="#666" stroke-width="0.8"/>
<text transform="translate(301.7,58.61) scale(1.03,1)" font-size="7.95" text-anchor="end" fill="#222" stroke="#222" stroke-width="0.1">70</text>
<line x1="304" y1="42.67" x2="305.6" y2="42.67" stroke="#666" stroke-width="0.8"/>
<text transform="translate(301.7,45.38) scale(1.03,1)" font-size="7.95" text-anchor="end" fill="#222" stroke="#222" stroke-width="0.1">80</text>
<line x1="304" y1="29.44" x2="305.6" y2="29.44" stroke="#666" stroke-width="0.8"/>
<text transform="translate(301.7,32.14) scale(1.03,1)" font-size="7.95" text-anchor="end" fill="#222" stroke="#222" stroke-width="0.1">90</text>
<line x1="304" y1="16.2" x2="305.6" y2="16.2" stroke="#666" stroke-width="0.8"/>
<text transform="translate(301.7,18.9) scale(1.03,1)" font-size="7.95" text-anchor="end" fill="#222" stroke="#222" stroke-width="0.1">100</text>
<line x1="305.6" y1="122.1" x2="305.6" y2="123.5" stroke="#666" stroke-width="0.8"/>
<text transform="translate(305.6,131.7) scale(1.03,1)" font-size="7.95" text-anchor="middle" fill="#222" stroke="#222" stroke-width="0.1">1</text>
<line x1="344.56" y1="122.1" x2="344.56" y2="123.5" stroke="#666" stroke-width="0.8"/>
<text transform="translate(344.56,131.7) scale(1.03,1)" font-size="7.95" text-anchor="middle" fill="#222" stroke="#222" stroke-width="0.1">2</text>
<line x1="383.52" y1="122.1" x2="383.52" y2="123.5" stroke="#666" stroke-width="0.8"/>
<text transform="translate(383.52,131.7) scale(1.03,1)" font-size="7.95" text-anchor="middle" fill="#222" stroke="#222" stroke-width="0.1">3</text>
<line x1="422.48" y1="122.1" x2="422.48" y2="123.5" stroke="#666" stroke-width="0.8"/>
<text transform="translate(422.48,131.7) scale(1.03,1)" font-size="7.95" text-anchor="middle" fill="#222" stroke="#222" stroke-width="0.1">4</text>
<line x1="461.44" y1="122.1" x2="461.44" y2="123.5" stroke="#666" stroke-width="0.8"/>
<text transform="translate(461.44,131.7) scale(1.03,1)" font-size="7.95" text-anchor="middle" fill="#222" stroke="#222" stroke-width="0.1">5</text>
<line x1="500.4" y1="122.1" x2="500.4" y2="123.5" stroke="#666" stroke-width="0.8"/>
<text transform="translate(500.4,131.7) scale(1.03,1)" font-size="7.95" text-anchor="middle" fill="#222" stroke="#222" stroke-width="0.1">6</text>
<line x1="305.6" y1="137.2" x2="500.4" y2="137.2" stroke="#7a7a7a" stroke-width="1"/>
<line x1="325.08" y1="137.2" x2="325.08" y2="138.8" stroke="#666" stroke-width="0.8"/>
<text transform="translate(325.08,146.5) scale(1.03,1)" font-size="7.95" text-anchor="middle" fill="#222" stroke="#222" stroke-width="0.1">1</text>
<line x1="354.3" y1="137.2" x2="354.3" y2="138.8" stroke="#666" stroke-width="0.8"/>
<text transform="translate(354.3,146.5) scale(1.03,1)" font-size="7.95" text-anchor="middle" fill="#222" stroke="#222" stroke-width="0.1">1.5</text>
<line x1="383.52" y1="137.2" x2="383.52" y2="138.8" stroke="#666" stroke-width="0.8"/>
<text transform="translate(383.52,146.5) scale(1.03,1)" font-size="7.95" text-anchor="middle" fill="#222" stroke="#222" stroke-width="0.1">2</text>
<line x1="412.74" y1="137.2" x2="412.74" y2="138.8" stroke="#666" stroke-width="0.8"/>
<text transform="translate(412.74,146.5) scale(1.03,1)" font-size="7.95" text-anchor="middle" fill="#222" stroke="#222" stroke-width="0.1">2.5</text>
<line x1="441.96" y1="137.2" x2="441.96" y2="138.8" stroke="#666" stroke-width="0.8"/>
<text transform="translate(441.96,146.5) scale(1.03,1)" font-size="7.95" text-anchor="middle" fill="#222" stroke="#222" stroke-width="0.1">3</text>
<line x1="471.18" y1="137.2" x2="471.18" y2="138.8" stroke="#666" stroke-width="0.8"/>
<text transform="translate(471.18,146.5) scale(1.03,1)" font-size="7.95" text-anchor="middle" fill="#222" stroke="#222" stroke-width="0.1">3.5</text>
<line x1="500.4" y1="137.2" x2="500.4" y2="138.8" stroke="#666" stroke-width="0.8"/>
<text transform="translate(500.4,146.5) scale(1.03,1)" font-size="7.95" text-anchor="middle" fill="#222" stroke="#222" stroke-width="0.1">4</text>
<text x="506.2" y="125" font-size="7.3" fill="#222" stroke="#222" stroke-width="0.12" textLength="33.2" lengthAdjust="spacingAndGlyphs">VT 5ml/kg</text>
<text x="506.2" y="139.8" font-size="7.3" fill="#222" stroke="#222" stroke-width="0.12" textLength="39.5" lengthAdjust="spacingAndGlyphs">VT 7.5ml/kg</text>
<text x="403" y="156.9" font-size="9.8" text-anchor="middle" fill="#111" stroke="#111" stroke-width="0.12" textLength="79" lengthAdjust="spacingAndGlyphs">Body Weight (kg)</text>
<text transform="translate(284.7,69.15) rotate(-90)" x="0" y="0" font-size="9.8" text-anchor="middle" fill="#111" stroke="#111" stroke-width="0.12" textLength="81" lengthAdjust="spacingAndGlyphs">Effective FiO₂ (%)</text>
<text x="403" y="12.1" font-size="10.6" font-weight="bold" text-anchor="middle" fill="#111" textLength="84.5" lengthAdjust="spacingAndGlyphs">LFNC 0.3 L/min</text>
<rect x="427.1" y="18.55" width="70.3" height="48.2" rx="2" ry="2" fill="#ffffff" fill-opacity="0.8" stroke="#cfcfcf" stroke-width="0.8"/>
<text x="430.5" y="28.95" font-size="8.0" fill="#222" stroke="#222" stroke-width="0.12" textLength="63.6" lengthAdjust="spacingAndGlyphs">Respiratory Rate</text>
<line x1="437.8" y1="37.95" x2="453.6" y2="37.95" stroke="#2ca02c" stroke-width="1.6" stroke-opacity="0.7"/>
<text x="459.3" y="40.85" font-size="8.0" fill="#222" stroke="#222" stroke-width="0.12" textLength="26.5" lengthAdjust="spacingAndGlyphs">30/min</text>
<line x1="437.8" y1="49.15" x2="453.6" y2="49.15" stroke="#ff7f0e" stroke-width="1.6" stroke-opacity="0.7"/>
<text x="459.3" y="52.05" font-size="8.0" fill="#222" stroke="#222" stroke-width="0.12" textLength="26.5" lengthAdjust="spacingAndGlyphs">60/min</text>
<line x1="437.8" y1="60.85" x2="453.6" y2="60.85" stroke="#dc3c3c" stroke-width="1.6" stroke-opacity="0.7"/>
<text x="459.3" y="63.75" font-size="8.0" fill="#222" stroke="#222" stroke-width="0.12" textLength="26.5" lengthAdjust="spacingAndGlyphs">80/min</text>
<rect x="32.7" y="196.4" width="194.8" height="105.9" fill="#f4f4f4"/>
<polygon fill="#888" fill-opacity="0.68" points="32.7,199.79 34.32,199.79 35.95,199.79 37.57,199.79 39.19,199.79 40.82,199.79 42.44,199.79 44.06,199.84 45.69,199.96 47.31,200.14 48.93,200.38 50.56,200.65 52.18,200.94 53.8,201.32 55.43,201.84 57.05,202.47 58.67,203.19 60.3,203.94 61.92,204.69 63.54,205.49 65.17,206.37 66.79,207.3 68.41,208.28 70.04,209.28 71.66,210.28 73.28,211.3 74.91,212.35 76.53,213.42 78.15,214.52 79.78,215.63 81.4,216.75 83.02,217.88 84.65,219.01 86.27,220.14 87.89,221.26 89.52,222.37 91.14,223.48 92.76,224.61 94.39,225.75 96.01,226.89 97.63,228.03 99.26,229.16 100.88,230.29 102.5,231.41 104.13,232.51 105.75,233.59 107.37,234.65 109,235.69 110.62,236.71 112.24,237.71 113.87,238.7 115.49,239.67 117.11,240.61 118.74,241.53 120.36,242.42 121.98,243.29 123.61,244.13 125.23,244.94 126.85,245.73 128.48,246.51 130.1,247.25 131.72,247.98 133.35,248.68 134.97,249.37 136.59,250.03 138.22,250.68 139.84,251.31 141.46,251.92 143.09,252.52 144.71,253.11 146.33,253.67 147.96,254.22 149.58,254.74 151.2,255.25 152.83,255.75 154.45,256.23 156.07,256.71 157.7,257.18 159.32,257.63 160.94,258.08 162.57,258.52 164.19,258.94 165.81,259.35 167.44,259.76 169.06,260.15 170.68,260.52 172.31,260.89 173.93,261.25 175.55,261.6 177.18,261.95 178.8,262.28 180.42,262.61 182.05,262.93 183.67,263.25 185.29,263.55 186.92,263.85 188.54,264.15 190.16,264.44 191.79,264.72 193.41,265 195.03,265.27 196.66,265.53 198.28,265.79 199.9,266.04 201.53,266.3 203.15,266.54 204.77,266.79 206.4,267.03 208.02,267.27 209.64,267.51 211.27,267.75 212.89,267.99 214.51,268.22 216.14,268.45 217.76,268.67 219.38,268.9 221.01,269.12 222.63,269.33 224.25,269.55 225.88,269.76 227.5,269.97 227.5,283.88 225.88,283.73 224.25,283.57 222.63,283.42 221.01,283.26 219.38,283.1 217.76,282.95 216.14,282.79 214.51,282.64 212.89,282.48 211.27,282.33 209.64,282.18 208.02,282.02 206.4,281.87 204.77,281.72 203.15,281.57 201.53,281.42 199.9,281.27 198.28,281.12 196.66,280.97 195.03,280.82 193.41,280.67 191.79,280.51 190.16,280.35 188.54,280.19 186.92,280.02 185.29,279.85 183.67,279.68 182.05,279.51 180.42,279.33 178.8,279.15 177.18,278.97 175.55,278.78 173.93,278.59 172.31,278.39 170.68,278.19 169.06,277.98 167.44,277.77 165.81,277.55 164.19,277.32 162.57,277.09 160.94,276.85 159.32,276.61 157.7,276.36 156.07,276.1 154.45,275.84 152.83,275.56 151.2,275.28 149.58,275 147.96,274.7 146.33,274.4 144.71,274.08 143.09,273.75 141.46,273.42 139.84,273.07 138.22,272.71 136.59,272.34 134.97,271.97 133.35,271.58 131.72,271.18 130.1,270.77 128.48,270.35 126.85,269.91 125.23,269.46 123.61,268.99 121.98,268.5 120.36,268 118.74,267.49 117.11,266.97 115.49,266.43 113.87,265.88 112.24,265.32 110.62,264.75 109,264.16 107.37,263.54 105.75,262.89 104.13,262.23 102.5,261.54 100.88,260.84 99.26,260.12 97.63,259.38 96.01,258.61 94.39,257.82 92.76,257.01 91.14,256.18 89.52,255.32 87.89,254.44 86.27,253.52 84.65,252.58 83.02,251.62 81.4,250.63 79.78,249.61 78.15,248.55 76.53,247.46 74.91,246.32 73.28,245.14 71.66,243.93 70.04,242.68 68.41,241.4 66.79,240.07 65.17,238.71 63.54,237.31 61.92,235.87 60.3,234.38 58.67,232.83 57.05,231.23 55.43,229.58 53.8,227.88 52.18,226.13 50.56,224.34 48.93,222.49 47.31,220.57 45.69,218.57 44.06,216.5 42.44,214.39 40.82,212.23 39.19,210.05 37.57,207.81 35.95,205.52 34.32,203.17 32.7,200.77"/>
<line x1="42.44" y1="196.4" x2="42.44" y2="302.3" stroke="#000" stroke-opacity="0.1" stroke-width="0.6"/>
<line x1="52.18" y1="196.4" x2="52.18" y2="302.3" stroke="#000" stroke-opacity="0.1" stroke-width="0.6"/>
<line x1="61.92" y1="196.4" x2="61.92" y2="302.3" stroke="#000" stroke-opacity="0.1" stroke-width="0.6"/>
<line x1="81.4" y1="196.4" x2="81.4" y2="302.3" stroke="#000" stroke-opacity="0.1" stroke-width="0.6"/>
<line x1="91.14" y1="196.4" x2="91.14" y2="302.3" stroke="#000" stroke-opacity="0.1" stroke-width="0.6"/>
<line x1="100.88" y1="196.4" x2="100.88" y2="302.3" stroke="#000" stroke-opacity="0.1" stroke-width="0.6"/>
<line x1="120.36" y1="196.4" x2="120.36" y2="302.3" stroke="#000" stroke-opacity="0.1" stroke-width="0.6"/>
<line x1="130.1" y1="196.4" x2="130.1" y2="302.3" stroke="#000" stroke-opacity="0.1" stroke-width="0.6"/>
<line x1="139.84" y1="196.4" x2="139.84" y2="302.3" stroke="#000" stroke-opacity="0.1" stroke-width="0.6"/>
<line x1="159.32" y1="196.4" x2="159.32" y2="302.3" stroke="#000" stroke-opacity="0.1" stroke-width="0.6"/>
<line x1="169.06" y1="196.4" x2="169.06" y2="302.3" stroke="#000" stroke-opacity="0.1" stroke-width="0.6"/>
<line x1="178.8" y1="196.4" x2="178.8" y2="302.3" stroke="#000" stroke-opacity="0.1" stroke-width="0.6"/>
<line x1="198.28" y1="196.4" x2="198.28" y2="302.3" stroke="#000" stroke-opacity="0.1" stroke-width="0.6"/>
<line x1="208.02" y1="196.4" x2="208.02" y2="302.3" stroke="#000" stroke-opacity="0.1" stroke-width="0.6"/>
<line x1="217.76" y1="196.4" x2="217.76" y2="302.3" stroke="#000" stroke-opacity="0.1" stroke-width="0.6"/>
<line x1="71.66" y1="196.4" x2="71.66" y2="302.3" stroke="#000" stroke-opacity="0.34" stroke-width="1.05"/>
<line x1="110.62" y1="196.4" x2="110.62" y2="302.3" stroke="#000" stroke-opacity="0.34" stroke-width="1.05"/>
<line x1="149.58" y1="196.4" x2="149.58" y2="302.3" stroke="#000" stroke-opacity="0.34" stroke-width="1.05"/>
<line x1="188.54" y1="196.4" x2="188.54" y2="302.3" stroke="#000" stroke-opacity="0.34" stroke-width="1.05"/>
<line x1="32.7" y1="289.06" x2="227.5" y2="289.06" stroke="#000" stroke-opacity="0.34" stroke-width="1.05"/>
<line x1="32.7" y1="275.83" x2="227.5" y2="275.83" stroke="#000" stroke-opacity="0.34" stroke-width="1.05"/>
<line x1="32.7" y1="262.59" x2="227.5" y2="262.59" stroke="#000" stroke-opacity="0.34" stroke-width="1.05"/>
<line x1="32.7" y1="249.35" x2="227.5" y2="249.35" stroke="#000" stroke-opacity="0.34" stroke-width="1.05"/>
<line x1="32.7" y1="236.11" x2="227.5" y2="236.11" stroke="#000" stroke-opacity="0.34" stroke-width="1.05"/>
<line x1="32.7" y1="222.88" x2="227.5" y2="222.88" stroke="#000" stroke-opacity="0.34" stroke-width="1.05"/>
<line x1="32.7" y1="209.64" x2="227.5" y2="209.64" stroke="#000" stroke-opacity="0.34" stroke-width="1.05"/>
<polyline fill="none" stroke="#2ca02c" stroke-width="1.1" stroke-linejoin="round" points="32.7,199.79 34.32,199.79 35.95,199.79 37.57,199.79 39.19,199.79 40.82,199.79 42.44,199.79 44.06,199.84 45.69,199.96 47.31,200.14 48.93,200.38 50.56,200.65 52.18,200.94 53.8,201.32 55.43,201.84 57.05,202.47 58.67,203.19 60.3,203.94 61.92,204.69 63.54,205.49 65.17,206.37 66.79,207.3 68.41,208.28 70.04,209.28 71.66,210.28 73.28,211.3 74.91,212.35 76.53,213.42 78.15,214.52 79.78,215.63 81.4,216.75 83.02,217.88 84.65,219.01 86.27,220.14 87.89,221.26 89.52,222.37 91.14,223.48 92.76,224.61 94.39,225.75 96.01,226.89 97.63,228.03 99.26,229.16 100.88,230.29 102.5,231.41 104.13,232.51 105.75,233.59 107.37,234.65 109,235.69 110.62,236.71 112.24,237.71 113.87,238.7 115.49,239.67 117.11,240.61 118.74,241.53 120.36,242.42 121.98,243.29 123.61,244.13 125.23,244.94 126.85,245.73 128.48,246.51 130.1,247.25 131.72,247.98 133.35,248.68 134.97,249.37 136.59,250.03 138.22,250.68 139.84,251.31 141.46,251.92 143.09,252.52 144.71,253.11 146.33,253.67 147.96,254.22 149.58,254.74 151.2,255.25 152.83,255.75 154.45,256.23 156.07,256.71 157.7,257.18 159.32,257.63 160.94,258.08 162.57,258.52 164.19,258.94 165.81,259.35 167.44,259.76 169.06,260.15 170.68,260.52 172.31,260.89 173.93,261.25 175.55,261.6 177.18,261.95 178.8,262.28 180.42,262.61 182.05,262.93 183.67,263.25 185.29,263.55 186.92,263.85 188.54,264.15 190.16,264.44 191.79,264.72 193.41,265 195.03,265.27 196.66,265.53 198.28,265.79 199.9,266.04 201.53,266.3 203.15,266.54 204.77,266.79 206.4,267.03 208.02,267.27 209.64,267.51 211.27,267.75 212.89,267.99 214.51,268.22 216.14,268.45 217.76,268.67 219.38,268.9 221.01,269.12 222.63,269.33 224.25,269.55 225.88,269.76 227.5,269.97"/>
<polyline fill="none" stroke="#ff7f0e" stroke-width="1.1" stroke-linejoin="round" points="32.7,200.77 34.32,203.17 35.95,205.52 37.57,207.81 39.19,210.05 40.82,212.23 42.44,214.39 44.06,216.5 45.69,218.57 47.31,220.57 48.93,222.49 50.56,224.34 52.18,226.13 53.8,227.88 55.43,229.58 57.05,231.23 58.67,232.83 60.3,234.38 61.92,235.87 63.54,237.31 65.17,238.71 66.79,240.07 68.41,241.4 70.04,242.68 71.66,243.93 73.28,245.14 74.91,246.32 76.53,247.46 78.15,248.55 79.78,249.61 81.4,250.63 83.02,251.62 84.65,252.58 86.27,253.52 87.89,254.44 89.52,255.32 91.14,256.18 92.76,257.01 94.39,257.82 96.01,258.61 97.63,259.38 99.26,260.12 100.88,260.84 102.5,261.54 104.13,262.23 105.75,262.89 107.37,263.54 109,264.16 110.62,264.75 112.24,265.32 113.87,265.88 115.49,266.43 117.11,266.97 118.74,267.49 120.36,268 121.98,268.5 123.61,268.99 125.23,269.46 126.85,269.91 128.48,270.35 130.1,270.77 131.72,271.18 133.35,271.58 134.97,271.97 136.59,272.34 138.22,272.71 139.84,273.07 141.46,273.42 143.09,273.75 144.71,274.08 146.33,274.4 147.96,274.7 149.58,275 151.2,275.28 152.83,275.56 154.45,275.84 156.07,276.1 157.7,276.36 159.32,276.61 160.94,276.85 162.57,277.09 164.19,277.32 165.81,277.55 167.44,277.77 169.06,277.98 170.68,278.19 172.31,278.39 173.93,278.59 175.55,278.78 177.18,278.97 178.8,279.15 180.42,279.33 182.05,279.51 183.67,279.68 185.29,279.85 186.92,280.02 188.54,280.19 190.16,280.35 191.79,280.51 193.41,280.67 195.03,280.82 196.66,280.97 198.28,281.12 199.9,281.27 201.53,281.42 203.15,281.57 204.77,281.72 206.4,281.87 208.02,282.02 209.64,282.18 211.27,282.33 212.89,282.48 214.51,282.64 216.14,282.79 217.76,282.95 219.38,283.1 221.01,283.26 222.63,283.42 224.25,283.57 225.88,283.73 227.5,283.88"/>
<polyline fill="none" stroke="#dc3c3c" stroke-width="1.1" stroke-linejoin="round" points="32.7,223.82 34.32,226.06 35.95,228.31 37.57,230.59 39.19,232.88 40.82,235.19 42.44,237.52 44.06,239.98 45.69,242.5 47.31,245 48.93,247.35 50.56,249.44 52.18,251.31 53.8,253.08 55.43,254.76 57.05,256.34 58.67,257.84 60.3,259.25 61.92,260.57 63.54,261.81 65.17,262.97 66.79,264.05 68.41,265.07 70.04,266.03 71.66,266.92 73.28,267.77 74.91,268.58 76.53,269.35 78.15,270.07 79.78,270.76 81.4,271.4 83.02,272.02 84.65,272.61 86.27,273.17 87.89,273.7 89.52,274.21 91.14,274.68 92.76,275.12 94.39,275.56 96.01,275.97 97.63,276.37 99.26,276.76 100.88,277.14 102.5,277.51 104.13,277.86 105.75,278.21 107.37,278.55 109,278.88 110.62,279.2 112.24,279.51 113.87,279.82 115.49,280.12 117.11,280.41 118.74,280.7 120.36,280.98 121.98,281.25 123.61,281.52 125.23,281.78 126.85,282.03 128.48,282.28 130.1,282.52 131.72,282.76 133.35,283 134.97,283.23 136.59,283.45 138.22,283.67 139.84,283.89 141.46,284.1 143.09,284.31 144.71,284.51 146.33,284.71 147.96,284.9 149.58,285.08 151.2,285.26 152.83,285.44 154.45,285.61 156.07,285.78 157.7,285.95 159.32,286.11 160.94,286.27 162.57,286.42 164.19,286.58 165.81,286.72 167.44,286.86 169.06,287 170.68,287.13 172.31,287.26 173.93,287.39 175.55,287.51 177.18,287.64 178.8,287.75 180.42,287.87 182.05,287.98 183.67,288.09 185.29,288.2 186.92,288.3 188.54,288.4 190.16,288.49 191.79,288.59 193.41,288.68 195.03,288.77 196.66,288.86 198.28,288.94 199.9,289.02 201.53,289.1 203.15,289.18 204.77,289.26 206.4,289.33 208.02,289.41 209.64,289.48 211.27,289.55 212.89,289.61 214.51,289.68 216.14,289.75 217.76,289.81 219.38,289.87 221.01,289.93 222.63,289.99 224.25,290.04 225.88,290.1 227.5,290.15"/>
<rect x="32.7" y="196.4" width="194.8" height="105.9" fill="none" stroke="#858585" stroke-width="1.05"/>
<line x1="31.1" y1="302.3" x2="32.7" y2="302.3" stroke="#666" stroke-width="0.8"/>
<text transform="translate(28.8,305) scale(1.03,1)" font-size="7.95" text-anchor="end" fill="#222" stroke="#222" stroke-width="0.1">20</text>
<line x1="31.1" y1="289.06" x2="32.7" y2="289.06" stroke="#666" stroke-width="0.8"/>
<text transform="translate(28.8,291.76) scale(1.03,1)" font-size="7.95" text-anchor="end" fill="#222" stroke="#222" stroke-width="0.1">30</text>
<line x1="31.1" y1="275.83" x2="32.7" y2="275.83" stroke="#666" stroke-width="0.8"/>
<text transform="translate(28.8,278.53) scale(1.03,1)" font-size="7.95" text-anchor="end" fill="#222" stroke="#222" stroke-width="0.1">40</text>
<line x1="31.1" y1="262.59" x2="32.7" y2="262.59" stroke="#666" stroke-width="0.8"/>
<text transform="translate(28.8,265.29) scale(1.03,1)" font-size="7.95" text-anchor="end" fill="#222" stroke="#222" stroke-width="0.1">50</text>
<line x1="31.1" y1="249.35" x2="32.7" y2="249.35" stroke="#666" stroke-width="0.8"/>
<text transform="translate(28.8,252.05) scale(1.03,1)" font-size="7.95" text-anchor="end" fill="#222" stroke="#222" stroke-width="0.1">60</text>
<line x1="31.1" y1="236.11" x2="32.7" y2="236.11" stroke="#666" stroke-width="0.8"/>
<text transform="translate(28.8,238.81) scale(1.03,1)" font-size="7.95" text-anchor="end" fill="#222" stroke="#222" stroke-width="0.1">70</text>
<line x1="31.1" y1="222.88" x2="32.7" y2="222.88" stroke="#666" stroke-width="0.8"/>
<text transform="translate(28.8,225.57) scale(1.03,1)" font-size="7.95" text-anchor="end" fill="#222" stroke="#222" stroke-width="0.1">80</text>
<line x1="31.1" y1="209.64" x2="32.7" y2="209.64" stroke="#666" stroke-width="0.8"/>
<text transform="translate(28.8,212.34) scale(1.03,1)" font-size="7.95" text-anchor="end" fill="#222" stroke="#222" stroke-width="0.1">90</text>
<line x1="31.1" y1="196.4" x2="32.7" y2="196.4" stroke="#666" stroke-width="0.8"/>
<text transform="translate(28.8,199.1) scale(1.03,1)" font-size="7.95" text-anchor="end" fill="#222" stroke="#222" stroke-width="0.1">100</text>
<line x1="32.7" y1="302.3" x2="32.7" y2="303.7" stroke="#666" stroke-width="0.8"/>
<text transform="translate(32.7,311.9) scale(1.03,1)" font-size="7.95" text-anchor="middle" fill="#222" stroke="#222" stroke-width="0.1">1</text>
<line x1="71.66" y1="302.3" x2="71.66" y2="303.7" stroke="#666" stroke-width="0.8"/>
<text transform="translate(71.66,311.9) scale(1.03,1)" font-size="7.95" text-anchor="middle" fill="#222" stroke="#222" stroke-width="0.1">2</text>
<line x1="110.62" y1="302.3" x2="110.62" y2="303.7" stroke="#666" stroke-width="0.8"/>
<text transform="translate(110.62,311.9) scale(1.03,1)" font-size="7.95" text-anchor="middle" fill="#222" stroke="#222" stroke-width="0.1">3</text>
<line x1="149.58" y1="302.3" x2="149.58" y2="303.7" stroke="#666" stroke-width="0.8"/>
<text transform="translate(149.58,311.9) scale(1.03,1)" font-size="7.95" text-anchor="middle" fill="#222" stroke="#222" stroke-width="0.1">4</text>
<line x1="188.54" y1="302.3" x2="188.54" y2="303.7" stroke="#666" stroke-width="0.8"/>
<text transform="translate(188.54,311.9) scale(1.03,1)" font-size="7.95" text-anchor="middle" fill="#222" stroke="#222" stroke-width="0.1">5</text>
<line x1="227.5" y1="302.3" x2="227.5" y2="303.7" stroke="#666" stroke-width="0.8"/>
<text transform="translate(227.5,311.9) scale(1.03,1)" font-size="7.95" text-anchor="middle" fill="#222" stroke="#222" stroke-width="0.1">6</text>
<line x1="32.7" y1="317.4" x2="227.5" y2="317.4" stroke="#7a7a7a" stroke-width="1"/>
<line x1="52.18" y1="317.4" x2="52.18" y2="319" stroke="#666" stroke-width="0.8"/>
<text transform="translate(52.18,326.7) scale(1.03,1)" font-size="7.95" text-anchor="middle" fill="#222" stroke="#222" stroke-width="0.1">1</text>
<line x1="81.4" y1="317.4" x2="81.4" y2="319" stroke="#666" stroke-width="0.8"/>
<text transform="translate(81.4,326.7) scale(1.03,1)" font-size="7.95" text-anchor="middle" fill="#222" stroke="#222" stroke-width="0.1">1.5</text>
<line x1="110.62" y1="317.4" x2="110.62" y2="319" stroke="#666" stroke-width="0.8"/>
<text transform="translate(110.62,326.7) scale(1.03,1)" font-size="7.95" text-anchor="middle" fill="#222" stroke="#222" stroke-width="0.1">2</text>
<line x1="139.84" y1="317.4" x2="139.84" y2="319" stroke="#666" stroke-width="0.8"/>
<text transform="translate(139.84,326.7) scale(1.03,1)" font-size="7.95" text-anchor="middle" fill="#222" stroke="#222" stroke-width="0.1">2.5</text>
<line x1="169.06" y1="317.4" x2="169.06" y2="319" stroke="#666" stroke-width="0.8"/>
<text transform="translate(169.06,326.7) scale(1.03,1)" font-size="7.95" text-anchor="middle" fill="#222" stroke="#222" stroke-width="0.1">3</text>
<line x1="198.28" y1="317.4" x2="198.28" y2="319" stroke="#666" stroke-width="0.8"/>
<text transform="translate(198.28,326.7) scale(1.03,1)" font-size="7.95" text-anchor="middle" fill="#222" stroke="#222" stroke-width="0.1">3.5</text>
<line x1="227.5" y1="317.4" x2="227.5" y2="319" stroke="#666" stroke-width="0.8"/>
<text transform="translate(227.5,326.7) scale(1.03,1)" font-size="7.95" text-anchor="middle" fill="#222" stroke="#222" stroke-width="0.1">4</text>
<text x="233.3" y="305.2" font-size="7.3" fill="#222" stroke="#222" stroke-width="0.12" textLength="33.2" lengthAdjust="spacingAndGlyphs">VT 5ml/kg</text>
<text x="233.3" y="320" font-size="7.3" fill="#222" stroke="#222" stroke-width="0.12" textLength="39.5" lengthAdjust="spacingAndGlyphs">VT 7.5ml/kg</text>
<text x="130.1" y="337.1" font-size="9.8" text-anchor="middle" fill="#111" stroke="#111" stroke-width="0.12" textLength="79" lengthAdjust="spacingAndGlyphs">Body Weight (kg)</text>
<text transform="translate(11.8,249.35) rotate(-90)" x="0" y="0" font-size="9.8" text-anchor="middle" fill="#111" stroke="#111" stroke-width="0.12" textLength="81" lengthAdjust="spacingAndGlyphs">Effective FiO₂ (%)</text>
<text x="130.1" y="192.3" font-size="10.6" font-weight="bold" text-anchor="middle" fill="#111" textLength="84.5" lengthAdjust="spacingAndGlyphs">LFNC 0.5 L/min</text>
<rect x="154.2" y="198.75" width="70.3" height="48.2" rx="2" ry="2" fill="#ffffff" fill-opacity="0.8" stroke="#cfcfcf" stroke-width="0.8"/>
<text x="157.6" y="209.15" font-size="8.0" fill="#222" stroke="#222" stroke-width="0.12" textLength="63.6" lengthAdjust="spacingAndGlyphs">Respiratory Rate</text>
<line x1="164.9" y1="218.15" x2="180.7" y2="218.15" stroke="#2ca02c" stroke-width="1.6" stroke-opacity="0.7"/>
<text x="186.4" y="221.05" font-size="8.0" fill="#222" stroke="#222" stroke-width="0.12" textLength="26.5" lengthAdjust="spacingAndGlyphs">30/min</text>
<line x1="164.9" y1="229.35" x2="180.7" y2="229.35" stroke="#ff7f0e" stroke-width="1.6" stroke-opacity="0.7"/>
<text x="186.4" y="232.25" font-size="8.0" fill="#222" stroke="#222" stroke-width="0.12" textLength="26.5" lengthAdjust="spacingAndGlyphs">60/min</text>
<line x1="164.9" y1="241.05" x2="180.7" y2="241.05" stroke="#dc3c3c" stroke-width="1.6" stroke-opacity="0.7"/>
<text x="186.4" y="243.95" font-size="8.0" fill="#222" stroke="#222" stroke-width="0.12" textLength="26.5" lengthAdjust="spacingAndGlyphs">80/min</text>
<rect x="305.6" y="196.4" width="194.8" height="105.9" fill="#f4f4f4"/>
<polygon fill="#888" fill-opacity="0.68" points="305.6,197.3 307.22,197.3 308.85,197.3 310.47,197.3 312.09,197.3 313.72,197.3 315.34,197.3 316.96,197.3 318.59,197.3 320.21,197.3 321.83,197.3 323.46,197.3 325.08,197.3 326.7,197.3 328.33,197.3 329.95,197.3 331.57,197.3 333.2,197.3 334.82,197.3 336.44,197.3 338.07,197.3 339.69,197.3 341.31,197.3 342.94,197.3 344.56,197.3 346.18,197.3 347.81,197.3 349.43,197.3 351.05,197.3 352.68,197.3 354.3,197.3 355.92,197.35 357.55,197.48 359.17,197.67 360.79,197.9 362.42,198.14 364.04,198.37 365.66,198.61 367.29,198.87 368.91,199.16 370.53,199.47 372.16,199.8 373.78,200.14 375.4,200.5 377.03,200.88 378.65,201.28 380.27,201.71 381.9,202.16 383.52,202.63 385.14,203.13 386.77,203.65 388.39,204.2 390.01,204.78 391.64,205.37 393.26,205.98 394.88,206.61 396.51,207.25 398.13,207.91 399.75,208.57 401.38,209.24 403,209.92 404.62,210.61 406.25,211.32 407.87,212.06 409.49,212.82 411.12,213.59 412.74,214.37 414.36,215.16 415.99,215.95 417.61,216.75 419.23,217.54 420.86,218.32 422.48,219.09 424.1,219.86 425.73,220.64 427.35,221.43 428.97,222.22 430.6,223.01 432.22,223.79 433.84,224.57 435.47,225.34 437.09,226.1 438.71,226.84 440.34,227.56 441.96,228.26 443.58,228.95 445.21,229.63 446.83,230.3 448.45,230.97 450.08,231.63 451.7,232.27 453.32,232.9 454.95,233.51 456.57,234.1 458.19,234.67 459.82,235.21 461.44,235.72 463.06,236.23 464.69,236.72 466.31,237.21 467.93,237.69 469.56,238.15 471.18,238.6 472.8,239.03 474.43,239.43 476.05,239.81 477.67,240.16 479.3,240.47 480.92,240.75 482.54,241.01 484.17,241.26 485.79,241.5 487.41,241.73 489.04,241.95 490.66,242.16 492.28,242.34 493.91,242.52 495.53,242.67 497.15,242.8 498.78,242.91 500.4,243 500.4,269.26 498.78,268.94 497.15,268.61 495.53,268.29 493.91,267.96 492.28,267.64 490.66,267.31 489.04,266.99 487.41,266.67 485.79,266.34 484.17,266.02 482.54,265.7 480.92,265.38 479.3,265.06 477.67,264.75 476.05,264.43 474.43,264.12 472.8,263.81 471.18,263.5 469.56,263.19 467.93,262.87 466.31,262.55 464.69,262.23 463.06,261.9 461.44,261.57 459.82,261.24 458.19,260.9 456.57,260.56 454.95,260.22 453.32,259.88 451.7,259.53 450.08,259.18 448.45,258.82 446.83,258.46 445.21,258.08 443.58,257.7 441.96,257.32 440.34,256.92 438.71,256.52 437.09,256.11 435.47,255.7 433.84,255.27 432.22,254.84 430.6,254.4 428.97,253.95 427.35,253.49 425.73,253.02 424.1,252.54 422.48,252.05 420.86,251.54 419.23,251.02 417.61,250.49 415.99,249.95 414.36,249.39 412.74,248.82 411.12,248.24 409.49,247.63 407.87,247.02 406.25,246.39 404.62,245.74 403,245.07 401.38,244.39 399.75,243.68 398.13,242.95 396.51,242.2 394.88,241.42 393.26,240.63 391.64,239.81 390.01,238.98 388.39,238.12 386.77,237.25 385.14,236.36 383.52,235.45 381.9,234.5 380.27,233.51 378.65,232.48 377.03,231.41 375.4,230.32 373.78,229.2 372.16,228.05 370.53,226.85 368.91,225.62 367.29,224.36 365.66,223.1 364.04,221.84 362.42,220.57 360.79,219.28 359.17,217.98 357.55,216.68 355.92,215.4 354.3,214.16 352.68,212.95 351.05,211.74 349.43,210.55 347.81,209.39 346.18,208.28 344.56,207.25 342.94,206.25 341.31,205.28 339.69,204.34 338.07,203.46 336.44,202.65 334.82,201.93 333.2,201.22 331.57,200.5 329.95,199.82 328.33,199.24 326.7,198.83 325.08,198.63 323.46,198.57 321.83,198.52 320.21,198.48 318.59,198.45 316.96,198.43 315.34,198.42 313.72,198.42 312.09,198.42 310.47,198.42 308.85,198.42 307.22,198.42 305.6,198.42"/>
<line x1="315.34" y1="196.4" x2="315.34" y2="302.3" stroke="#000" stroke-opacity="0.1" stroke-width="0.6"/>
<line x1="325.08" y1="196.4" x2="325.08" y2="302.3" stroke="#000" stroke-opacity="0.1" stroke-width="0.6"/>
<line x1="334.82" y1="196.4" x2="334.82" y2="302.3" stroke="#000" stroke-opacity="0.1" stroke-width="0.6"/>
<line x1="354.3" y1="196.4" x2="354.3" y2="302.3" stroke="#000" stroke-opacity="0.1" stroke-width="0.6"/>
<line x1="364.04" y1="196.4" x2="364.04" y2="302.3" stroke="#000" stroke-opacity="0.1" stroke-width="0.6"/>
<line x1="373.78" y1="196.4" x2="373.78" y2="302.3" stroke="#000" stroke-opacity="0.1" stroke-width="0.6"/>
<line x1="393.26" y1="196.4" x2="393.26" y2="302.3" stroke="#000" stroke-opacity="0.1" stroke-width="0.6"/>
<line x1="403" y1="196.4" x2="403" y2="302.3" stroke="#000" stroke-opacity="0.1" stroke-width="0.6"/>
<line x1="412.74" y1="196.4" x2="412.74" y2="302.3" stroke="#000" stroke-opacity="0.1" stroke-width="0.6"/>
<line x1="432.22" y1="196.4" x2="432.22" y2="302.3" stroke="#000" stroke-opacity="0.1" stroke-width="0.6"/>
<line x1="441.96" y1="196.4" x2="441.96" y2="302.3" stroke="#000" stroke-opacity="0.1" stroke-width="0.6"/>
<line x1="451.7" y1="196.4" x2="451.7" y2="302.3" stroke="#000" stroke-opacity="0.1" stroke-width="0.6"/>
<line x1="471.18" y1="196.4" x2="471.18" y2="302.3" stroke="#000" stroke-opacity="0.1" stroke-width="0.6"/>
<line x1="480.92" y1="196.4" x2="480.92" y2="302.3" stroke="#000" stroke-opacity="0.1" stroke-width="0.6"/>
<line x1="490.66" y1="196.4" x2="490.66" y2="302.3" stroke="#000" stroke-opacity="0.1" stroke-width="0.6"/>
<line x1="344.56" y1="196.4" x2="344.56" y2="302.3" stroke="#000" stroke-opacity="0.34" stroke-width="1.05"/>
<line x1="383.52" y1="196.4" x2="383.52" y2="302.3" stroke="#000" stroke-opacity="0.34" stroke-width="1.05"/>
<line x1="422.48" y1="196.4" x2="422.48" y2="302.3" stroke="#000" stroke-opacity="0.34" stroke-width="1.05"/>
<line x1="461.44" y1="196.4" x2="461.44" y2="302.3" stroke="#000" stroke-opacity="0.34" stroke-width="1.05"/>
<line x1="305.6" y1="289.06" x2="500.4" y2="289.06" stroke="#000" stroke-opacity="0.34" stroke-width="1.05"/>
<line x1="305.6" y1="275.83" x2="500.4" y2="275.83" stroke="#000" stroke-opacity="0.34" stroke-width="1.05"/>
<line x1="305.6" y1="262.59" x2="500.4" y2="262.59" stroke="#000" stroke-opacity="0.34" stroke-width="1.05"/>
<line x1="305.6" y1="249.35" x2="500.4" y2="249.35" stroke="#000" stroke-opacity="0.34" stroke-width="1.05"/>
<line x1="305.6" y1="236.11" x2="500.4" y2="236.11" stroke="#000" stroke-opacity="0.34" stroke-width="1.05"/>
<line x1="305.6" y1="222.88" x2="500.4" y2="222.88" stroke="#000" stroke-opacity="0.34" stroke-width="1.05"/>
<line x1="305.6" y1="209.64" x2="500.4" y2="209.64" stroke="#000" stroke-opacity="0.34" stroke-width="1.05"/>
<polyline fill="none" stroke="#2ca02c" stroke-width="1.1" stroke-linejoin="round" points="305.6,197.3 307.22,197.3 308.85,197.3 310.47,197.3 312.09,197.3 313.72,197.3 315.34,197.3 316.96,197.3 318.59,197.3 320.21,197.3 321.83,197.3 323.46,197.3 325.08,197.3 326.7,197.3 328.33,197.3 329.95,197.3 331.57,197.3 333.2,197.3 334.82,197.3 336.44,197.3 338.07,197.3 339.69,197.3 341.31,197.3 342.94,197.3 344.56,197.3 346.18,197.3 347.81,197.3 349.43,197.3 351.05,197.3 352.68,197.3 354.3,197.3 355.92,197.35 357.55,197.48 359.17,197.67 360.79,197.9 362.42,198.14 364.04,198.37 365.66,198.61 367.29,198.87 368.91,199.16 370.53,199.47 372.16,199.8 373.78,200.14 375.4,200.5 377.03,200.88 378.65,201.28 380.27,201.71 381.9,202.16 383.52,202.63 385.14,203.13 386.77,203.65 388.39,204.2 390.01,204.78 391.64,205.37 393.26,205.98 394.88,206.61 396.51,207.25 398.13,207.91 399.75,208.57 401.38,209.24 403,209.92 404.62,210.61 406.25,211.32 407.87,212.06 409.49,212.82 411.12,213.59 412.74,214.37 414.36,215.16 415.99,215.95 417.61,216.75 419.23,217.54 420.86,218.32 422.48,219.09 424.1,219.86 425.73,220.64 427.35,221.43 428.97,222.22 430.6,223.01 432.22,223.79 433.84,224.57 435.47,225.34 437.09,226.1 438.71,226.84 440.34,227.56 441.96,228.26 443.58,228.95 445.21,229.63 446.83,230.3 448.45,230.97 450.08,231.63 451.7,232.27 453.32,232.9 454.95,233.51 456.57,234.1 458.19,234.67 459.82,235.21 461.44,235.72 463.06,236.23 464.69,236.72 466.31,237.21 467.93,237.69 469.56,238.15 471.18,238.6 472.8,239.03 474.43,239.43 476.05,239.81 477.67,240.16 479.3,240.47 480.92,240.75 482.54,241.01 484.17,241.26 485.79,241.5 487.41,241.73 489.04,241.95 490.66,242.16 492.28,242.34 493.91,242.52 495.53,242.67 497.15,242.8 498.78,242.91 500.4,243"/>
<polyline fill="none" stroke="#ff7f0e" stroke-width="1.1" stroke-linejoin="round" points="305.6,198.42 307.22,198.42 308.85,198.42 310.47,198.42 312.09,198.42 313.72,198.42 315.34,198.42 316.96,198.43 318.59,198.45 320.21,198.48 321.83,198.52 323.46,198.57 325.08,198.63 326.7,198.83 328.33,199.24 329.95,199.82 331.57,200.5 333.2,201.22 334.82,201.93 336.44,202.65 338.07,203.46 339.69,204.34 341.31,205.28 342.94,206.25 344.56,207.25 346.18,208.28 347.81,209.39 349.43,210.55 351.05,211.74 352.68,212.95 354.3,214.16 355.92,215.4 357.55,216.68 359.17,217.98 360.79,219.28 362.42,220.57 364.04,221.84 365.66,223.1 367.29,224.36 368.91,225.62 370.53,226.85 372.16,228.05 373.78,229.2 375.4,230.32 377.03,231.41 378.65,232.48 380.27,233.51 381.9,234.5 383.52,235.45 385.14,236.36 386.77,237.25 388.39,238.12 390.01,238.98 391.64,239.81 393.26,240.63 394.88,241.42 396.51,242.2 398.13,242.95 399.75,243.68 401.38,244.39 403,245.07 404.62,245.74 406.25,246.39 407.87,247.02 409.49,247.63 411.12,248.24 412.74,248.82 414.36,249.39 415.99,249.95 417.61,250.49 419.23,251.02 420.86,251.54 422.48,252.05 424.1,252.54 425.73,253.02 427.35,253.49 428.97,253.95 430.6,254.4 432.22,254.84 433.84,255.27 435.47,255.7 437.09,256.11 438.71,256.52 440.34,256.92 441.96,257.32 443.58,257.7 445.21,258.08 446.83,258.46 448.45,258.82 450.08,259.18 451.7,259.53 453.32,259.88 454.95,260.22 456.57,260.56 458.19,260.9 459.82,261.24 461.44,261.57 463.06,261.9 464.69,262.23 466.31,262.55 467.93,262.87 469.56,263.19 471.18,263.5 472.8,263.81 474.43,264.12 476.05,264.43 477.67,264.75 479.3,265.06 480.92,265.38 482.54,265.7 484.17,266.02 485.79,266.34 487.41,266.67 489.04,266.99 490.66,267.31 492.28,267.64 493.91,267.96 495.53,268.29 497.15,268.61 498.78,268.94 500.4,269.26"/>
<polyline fill="none" stroke="#dc3c3c" stroke-width="1.1" stroke-linejoin="round" points="305.6,199.84 307.22,201.77 308.85,203.69 310.47,205.57 312.09,207.44 313.72,209.27 315.34,211.08 316.96,212.87 318.59,214.65 320.21,216.41 321.83,218.14 323.46,219.82 325.08,221.44 326.7,223 328.33,224.5 329.95,225.95 331.57,227.36 333.2,228.75 334.82,230.11 336.44,231.44 338.07,232.74 339.69,234.01 341.31,235.28 342.94,236.54 344.56,237.78 346.18,239 347.81,240.22 349.43,241.43 351.05,242.62 352.68,243.79 354.3,244.94 355.92,246.06 357.55,247.16 359.17,248.23 360.79,249.28 362.42,250.31 364.04,251.3 365.66,252.25 367.29,253.18 368.91,254.09 370.53,254.97 372.16,255.83 373.78,256.65 375.4,257.46 377.03,258.24 378.65,259 380.27,259.74 381.9,260.44 383.52,261.11 385.14,261.76 386.77,262.4 388.39,263.02 390.01,263.63 391.64,264.22 393.26,264.8 394.88,265.37 396.51,265.92 398.13,266.45 399.75,266.96 401.38,267.45 403,267.93 404.62,268.39 406.25,268.83 407.87,269.27 409.49,269.69 411.12,270.1 412.74,270.5 414.36,270.89 415.99,271.27 417.61,271.63 419.23,271.98 420.86,272.32 422.48,272.65 424.1,272.96 425.73,273.27 427.35,273.57 428.97,273.86 430.6,274.14 432.22,274.42 433.84,274.68 435.47,274.94 437.09,275.19 438.71,275.43 440.34,275.67 441.96,275.89 443.58,276.11 445.21,276.33 446.83,276.53 448.45,276.73 450.08,276.93 451.7,277.12 453.32,277.3 454.95,277.48 456.57,277.65 458.19,277.82 459.82,277.99 461.44,278.15 463.06,278.31 464.69,278.46 466.31,278.61 467.93,278.76 469.56,278.9 471.18,279.04 472.8,279.17 474.43,279.31 476.05,279.44 477.67,279.57 479.3,279.7 480.92,279.83 482.54,279.96 484.17,280.09 485.79,280.22 487.41,280.34 489.04,280.47 490.66,280.59 492.28,280.72 493.91,280.84 495.53,280.96 497.15,281.08 498.78,281.19 500.4,281.31"/>
<rect x="305.6" y="196.4" width="194.8" height="105.9" fill="none" stroke="#858585" stroke-width="1.05"/>
<line x1="304" y1="302.3" x2="305.6" y2="302.3" stroke="#666" stroke-width="0.8"/>
<text transform="translate(301.7,305) scale(1.03,1)" font-size="7.95" text-anchor="end" fill="#222" stroke="#222" stroke-width="0.1">20</text>
<line x1="304" y1="289.06" x2="305.6" y2="289.06" stroke="#666" stroke-width="0.8"/>
<text transform="translate(301.7,291.76) scale(1.03,1)" font-size="7.95" text-anchor="end" fill="#222" stroke="#222" stroke-width="0.1">30</text>
<line x1="304" y1="275.83" x2="305.6" y2="275.83" stroke="#666" stroke-width="0.8"/>
<text transform="translate(301.7,278.53) scale(1.03,1)" font-size="7.95" text-anchor="end" fill="#222" stroke="#222" stroke-width="0.1">40</text>
<line x1="304" y1="262.59" x2="305.6" y2="262.59" stroke="#666" stroke-width="0.8"/>
<text transform="translate(301.7,265.29) scale(1.03,1)" font-size="7.95" text-anchor="end" fill="#222" stroke="#222" stroke-width="0.1">50</text>
<line x1="304" y1="249.35" x2="305.6" y2="249.35" stroke="#666" stroke-width="0.8"/>
<text transform="translate(301.7,252.05) scale(1.03,1)" font-size="7.95" text-anchor="end" fill="#222" stroke="#222" stroke-width="0.1">60</text>
<line x1="304" y1="236.11" x2="305.6" y2="236.11" stroke="#666" stroke-width="0.8"/>
<text transform="translate(301.7,238.81) scale(1.03,1)" font-size="7.95" text-anchor="end" fill="#222" stroke="#222" stroke-width="0.1">70</text>
<line x1="304" y1="222.88" x2="305.6" y2="222.88" stroke="#666" stroke-width="0.8"/>
<text transform="translate(301.7,225.57) scale(1.03,1)" font-size="7.95" text-anchor="end" fill="#222" stroke="#222" stroke-width="0.1">80</text>
<line x1="304" y1="209.64" x2="305.6" y2="209.64" stroke="#666" stroke-width="0.8"/>
<text transform="translate(301.7,212.34) scale(1.03,1)" font-size="7.95" text-anchor="end" fill="#222" stroke="#222" stroke-width="0.1">90</text>
<line x1="304" y1="196.4" x2="305.6" y2="196.4" stroke="#666" stroke-width="0.8"/>
<text transform="translate(301.7,199.1) scale(1.03,1)" font-size="7.95" text-anchor="end" fill="#222" stroke="#222" stroke-width="0.1">100</text>
<line x1="305.6" y1="302.3" x2="305.6" y2="303.7" stroke="#666" stroke-width="0.8"/>
<text transform="translate(305.6,311.9) scale(1.03,1)" font-size="7.95" text-anchor="middle" fill="#222" stroke="#222" stroke-width="0.1">1</text>
<line x1="344.56" y1="302.3" x2="344.56" y2="303.7" stroke="#666" stroke-width="0.8"/>
<text transform="translate(344.56,311.9) scale(1.03,1)" font-size="7.95" text-anchor="middle" fill="#222" stroke="#222" stroke-width="0.1">2</text>
<line x1="383.52" y1="302.3" x2="383.52" y2="303.7" stroke="#666" stroke-width="0.8"/>
<text transform="translate(383.52,311.9) scale(1.03,1)" font-size="7.95" text-anchor="middle" fill="#222" stroke="#222" stroke-width="0.1">3</text>
<line x1="422.48" y1="302.3" x2="422.48" y2="303.7" stroke="#666" stroke-width="0.8"/>
<text transform="translate(422.48,311.9) scale(1.03,1)" font-size="7.95" text-anchor="middle" fill="#222" stroke="#222" stroke-width="0.1">4</text>
<line x1="461.44" y1="302.3" x2="461.44" y2="303.7" stroke="#666" stroke-width="0.8"/>
<text transform="translate(461.44,311.9) scale(1.03,1)" font-size="7.95" text-anchor="middle" fill="#222" stroke="#222" stroke-width="0.1">5</text>
<line x1="500.4" y1="302.3" x2="500.4" y2="303.7" stroke="#666" stroke-width="0.8"/>
<text transform="translate(500.4,311.9) scale(1.03,1)" font-size="7.95" text-anchor="middle" fill="#222" stroke="#222" stroke-width="0.1">6</text>
<line x1="305.6" y1="317.4" x2="500.4" y2="317.4" stroke="#7a7a7a" stroke-width="1"/>
<line x1="325.08" y1="317.4" x2="325.08" y2="319" stroke="#666" stroke-width="0.8"/>
<text transform="translate(325.08,326.7) scale(1.03,1)" font-size="7.95" text-anchor="middle" fill="#222" stroke="#222" stroke-width="0.1">1</text>
<line x1="354.3" y1="317.4" x2="354.3" y2="319" stroke="#666" stroke-width="0.8"/>
<text transform="translate(354.3,326.7) scale(1.03,1)" font-size="7.95" text-anchor="middle" fill="#222" stroke="#222" stroke-width="0.1">1.5</text>
<line x1="383.52" y1="317.4" x2="383.52" y2="319" stroke="#666" stroke-width="0.8"/>
<text transform="translate(383.52,326.7) scale(1.03,1)" font-size="7.95" text-anchor="middle" fill="#222" stroke="#222" stroke-width="0.1">2</text>
<line x1="412.74" y1="317.4" x2="412.74" y2="319" stroke="#666" stroke-width="0.8"/>
<text transform="translate(412.74,326.7) scale(1.03,1)" font-size="7.95" text-anchor="middle" fill="#222" stroke="#222" stroke-width="0.1">2.5</text>
<line x1="441.96" y1="317.4" x2="441.96" y2="319" stroke="#666" stroke-width="0.8"/>
<text transform="translate(441.96,326.7) scale(1.03,1)" font-size="7.95" text-anchor="middle" fill="#222" stroke="#222" stroke-width="0.1">3</text>
<line x1="471.18" y1="317.4" x2="471.18" y2="319" stroke="#666" stroke-width="0.8"/>
<text transform="translate(471.18,326.7) scale(1.03,1)" font-size="7.95" text-anchor="middle" fill="#222" stroke="#222" stroke-width="0.1">3.5</text>
<line x1="500.4" y1="317.4" x2="500.4" y2="319" stroke="#666" stroke-width="0.8"/>
<text transform="translate(500.4,326.7) scale(1.03,1)" font-size="7.95" text-anchor="middle" fill="#222" stroke="#222" stroke-width="0.1">4</text>
<text x="506.2" y="305.2" font-size="7.3" fill="#222" stroke="#222" stroke-width="0.12" textLength="33.2" lengthAdjust="spacingAndGlyphs">VT 5ml/kg</text>
<text x="506.2" y="320" font-size="7.3" fill="#222" stroke="#222" stroke-width="0.12" textLength="39.5" lengthAdjust="spacingAndGlyphs">VT 7.5ml/kg</text>
<text x="403" y="337.1" font-size="9.8" text-anchor="middle" fill="#111" stroke="#111" stroke-width="0.12" textLength="79" lengthAdjust="spacingAndGlyphs">Body Weight (kg)</text>
<text transform="translate(284.7,249.35) rotate(-90)" x="0" y="0" font-size="9.8" text-anchor="middle" fill="#111" stroke="#111" stroke-width="0.12" textLength="81" lengthAdjust="spacingAndGlyphs">Effective FiO₂ (%)</text>
<text x="403" y="192.3" font-size="10.6" font-weight="bold" text-anchor="middle" fill="#111" textLength="84.5" lengthAdjust="spacingAndGlyphs">LFNC 1.0 L/min</text>
<rect x="308.7" y="250.3" width="70.3" height="48.2" rx="2" ry="2" fill="#ffffff" fill-opacity="0.8" stroke="#cfcfcf" stroke-width="0.8"/>
<text x="312.5" y="259.1" font-size="8.0" fill="#222" stroke="#222" stroke-width="0.12" textLength="63.6" lengthAdjust="spacingAndGlyphs">Respiratory Rate</text>
<line x1="319.8" y1="267.6" x2="335.6" y2="267.6" stroke="#2ca02c" stroke-width="1.6" stroke-opacity="0.7"/>
<text x="341.3" y="270.5" font-size="8.0" fill="#222" stroke="#222" stroke-width="0.12" textLength="26.5" lengthAdjust="spacingAndGlyphs">30/min</text>
<line x1="319.8" y1="279.4" x2="335.6" y2="279.4" stroke="#ff7f0e" stroke-width="1.6" stroke-opacity="0.7"/>
<text x="341.3" y="282.3" font-size="8.0" fill="#222" stroke="#222" stroke-width="0.12" textLength="26.5" lengthAdjust="spacingAndGlyphs">60/min</text>
<line x1="319.8" y1="290.9" x2="335.6" y2="290.9" stroke="#dc3c3c" stroke-width="1.6" stroke-opacity="0.7"/>
<text x="341.3" y="293.8" font-size="8.0" fill="#222" stroke="#222" stroke-width="0.12" textLength="26.5" lengthAdjust="spacingAndGlyphs">80/min</text>
</svg></body></html>
